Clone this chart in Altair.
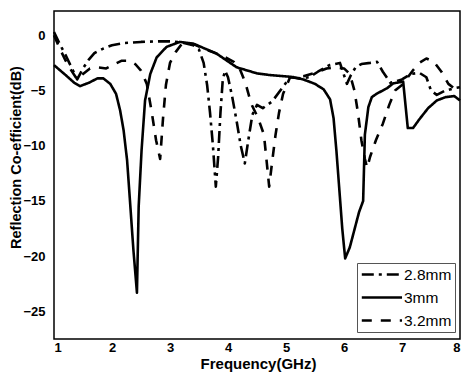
import altair as alt
import pandas as pd

series_names = ["2.8mm", "3mm", "3.2mm"]

freq_28 = [1.0, 1.1, 1.2, 1.3, 1.4, 1.5, 1.6, 1.7, 1.85, 2.0, 2.2, 2.5, 2.8, 3.0, 3.2, 3.4, 3.5,
           3.58, 3.64, 3.69, 3.74, 3.79, 3.83, 3.87, 3.91, 3.95, 4.0, 4.07, 4.15, 4.22, 4.29,
           4.35, 4.42, 4.5, 4.6, 4.76, 4.93, 5.07, 5.25, 5.4, 5.55, 5.75, 5.93, 6.0, 6.05,
           6.12, 6.2, 6.3, 6.45, 6.57, 6.67, 6.8, 7.0, 7.15, 7.3, 7.42, 7.5, 7.6, 7.75, 7.9, 8.0]
db_28 = [0.3, -0.8, -1.8, -2.9, -4.0, -3.0, -2.2, -1.6, -1.2, -0.9, -0.7, -0.6, -0.55, -0.55,
         -0.65, -0.9, -1.3, -2.5, -4.5, -7.0, -10.0, -13.7, -11.0, -7.0, -4.0, -3.2, -3.8, -5.5,
         -7.8, -10.0, -11.6, -9.5, -7.2, -6.3, -6.6, -6.0, -4.8, -3.8, -3.9, -3.8, -3.3, -2.7,
         -2.5, -3.6, -4.4, -3.6, -2.9, -2.6, -2.5, -2.4, -3.3, -4.3, -4.0, -3.5, -3.4, -3.8,
         -5.0, -5.4, -5.0, -4.8, -4.7]

freq_30 = [1.0, 1.2, 1.35, 1.45, 1.6, 1.75, 1.85, 1.97, 2.07, 2.14, 2.2, 2.26, 2.31, 2.37,
           2.43, 2.46, 2.51, 2.57, 2.66, 2.77, 2.94, 3.17, 3.4, 3.8, 4.15, 4.5, 4.72, 5.07,
           5.3, 5.5, 5.65, 5.76, 5.82, 5.87, 5.92, 5.97, 6.02, 6.1, 6.18, 6.26, 6.33, 6.36,
           6.42, 6.48, 6.56, 6.74, 6.85, 7.02, 7.1, 7.19, 7.3, 7.45, 7.6, 7.75, 7.9, 8.0]
db_30 = [-2.7, -3.6, -4.3, -4.6, -4.3, -3.9, -3.9, -4.4, -5.3, -6.8, -8.6, -11.3, -15.0,
         -19.5, -23.3, -15.5, -10.4, -5.9, -3.5, -2.0, -1.05, -0.6, -0.75, -1.65, -2.9, -3.45,
         -3.6, -3.75, -4.0, -4.4, -4.9, -5.8, -7.5, -10.5, -14.0, -17.5, -20.2, -19.2, -17.6,
         -16.0, -15.0, -9.0, -6.5, -5.6, -5.3, -4.8, -4.35, -4.2, -8.4, -8.4, -7.6, -6.6, -5.9,
         -5.6, -5.5, -5.9]

freq_32 = [1.0, 1.1, 1.2, 1.3, 1.4, 1.5, 1.62, 1.75, 1.9, 2.05, 2.17, 2.3, 2.4, 2.5, 2.6,
           2.68, 2.76, 2.83, 2.88, 2.93, 3.0, 3.1, 3.2, 3.4, 3.7, 3.9, 4.1, 4.2, 4.3, 4.4,
           4.52, 4.62, 4.71, 4.76, 4.82, 4.88, 4.95, 5.07, 5.3, 5.5, 5.7, 5.85, 6.0, 6.1,
           6.18, 6.24, 6.3, 6.36, 6.4, 6.45, 6.55, 6.67, 6.78, 6.88, 7.0, 7.1, 7.2, 7.3, 7.42,
           7.55, 7.68, 7.8, 7.9, 8.0]
db_32 = [0.0, -1.2, -2.3, -3.2, -4.0, -3.5, -3.0, -2.9, -3.0, -2.6, -2.3, -2.3, -2.6, -3.2,
         -4.4, -6.8, -9.5, -11.2, -7.5, -4.5, -2.5, -1.5, -0.8, -0.8, -1.45, -1.85, -2.4, -3.0,
         -4.3, -6.2, -7.5, -9.0, -13.7, -11.5, -9.0, -7.0, -5.3, -3.8, -3.7, -3.4, -3.0, -2.9,
         -3.0, -3.5, -5.0, -7.0, -9.5, -11.2, -12.0, -11.0, -9.5, -8.0, -6.3, -5.0, -4.5, -3.8,
         -3.1, -2.5, -2.1, -2.4, -3.3, -4.4, -4.8, -4.6]

x_ticks = [1, 2, 3, 4, 5, 6, 7, 8]
y_ticks = [-25, -20, -15, -10, -5, 0]

rows = []
for name, fs, ds in zip(series_names, [freq_28, freq_30, freq_32], [db_28, db_30, db_32]):
    for i, (f, d) in enumerate(zip(fs, ds)):
        rows.append({"series": name, "f": f, "db": d, "idx": i})
df = pd.DataFrame(rows)

FONT = "Liberation Sans"

chart = alt.Chart(df).mark_line(color="black", strokeWidth=2.6, strokeJoin="round").encode(
    x=alt.X("f:Q",
            scale=alt.Scale(domain=[1, 8], nice=False, zero=False),
            axis=alt.Axis(values=x_ticks, title="Frequency(GHz)", ticks=False, grid=False,
                          labelFont=FONT, labelFontSize=13, labelFontWeight="bold",
                          labelColor="black", labelPadding=2, labelBaseline="top",
                          titleFont=FONT, titleFontSize=15, titleFontWeight="bold",
                          titleColor="black", titleX=204, titleY=29,
                          titleBaseline="alphabetic", titleAlign="center",
                          domain=False)),
    y=alt.Y("db:Q",
            scale=alt.Scale(domain=[-27.5, 2.2], nice=False, zero=False),
            axis=alt.Axis(values=y_ticks, title="Reflection Co-efficient(dB)", ticks=False,
                          grid=False, labelFont=FONT, labelFontSize=13, labelFontWeight="bold",
                          labelColor="black", labelPadding=9,
                          titleFont=FONT, titleFontSize=14.5, titleFontWeight="bold",
                          titleColor="black", titleX=-38, titleY=146, titleAngle=270,
                          titleBaseline="middle", titleAlign="center", domain=False)),
    strokeDash=alt.StrokeDash("series:N",
                              scale=alt.Scale(domain=series_names,
                                              range=[[12, 5, 3, 5], [1, 0], [10, 9]]),
                              legend=alt.Legend(title=None, orient="none", legendX=303,
                                                legendY=252, symbolType="M-1,0H5",
                                                symbolSize=180, symbolStrokeWidth=2.6,
                                                symbolStrokeColor="black",
                                                symbolFillColor="transparent",
                                                labelFont=FONT, labelFontSize=15.5,
                                                labelColor="black", labelOffset=27,
                                                rowPadding=6, padding=3,
                                                strokeColor="#555", fillColor="white")),
    order="idx:Q",
).properties(
    width=406, height=328,
    background="white",
    autosize=alt.AutoSizeParams(type="none"),
    padding={"left": 46, "top": 3, "right": 6, "bottom": 33},
).configure_view(stroke="black", strokeWidth=1.5)

chart.save("out.html", embed_options={"renderer": "svg", "actions": False})
